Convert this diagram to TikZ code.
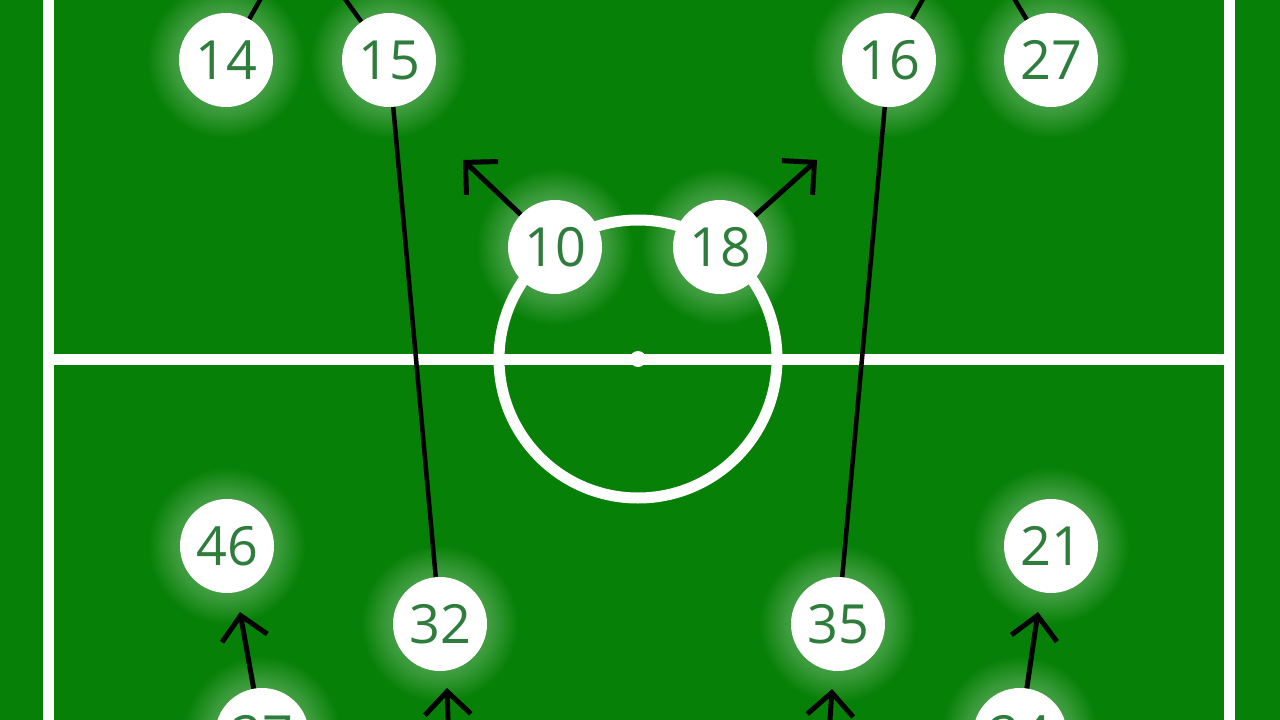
\documentclass[tikz,border=0pt]{standalone}
\usepackage{fontspec}
\setmainfont{Open Sans}
\usetikzlibrary{arrows.meta}
\definecolor{pitch}{RGB}{6,128,6}
\definecolor{shirt}{RGB}{46,125,60}
\tikzset{
	player/.style={circle,fill=white,minimum size=94pt,inner sep=0pt,text=shirt,font=\fontsize{54}{54}\selectfont},
	pitchline/.style={white,line width=11pt},
	run/.style={black,line width=5pt,-{Straight Barb[length=23pt,width=46pt]}},
	pass/.style={black,line width=4.5pt}
}

\begin{document}
\begin{tikzpicture}[x=1pt,y=-1pt]
				\useasboundingbox (0,0) rectangle (1280,720);
				\clip (0,0) rectangle (1280,720);
				\fill[pitch] (0,0) rectangle (1280,720);
				
				\draw[pitchline] (48,-20) -- (48,740);
				\draw[pitchline] (1229,-20) -- (1229,740);
				\draw[pitchline] (48,359) -- (1229,359);
				\draw[pitchline] (638,359) circle (139pt);
				\fill[white] (638,359) circle (8pt);
				
				\foreach \n/\x/\y/\t in {p14/226/60/14, p15/389/60/15, p16/889/60/16, p27/1051/60/27,
						p10/555/247/10, p18/720/247/18,
						p46/227/546/46, p21/1051/546/21, p32/440/624/32, p35/838/624/35,
						p27b/262/735/27, p24/1020/735/24}{
					\foreach \r in {48,50,...,78}
						\fill[white,opacity=0.02] (\x,\y) circle (\r pt);
					\node[player] (\n) at (\x,\y) {\t};
				}
				
				\coordinate (u14) at (277,-30);
				\coordinate (u15) at (324,-30);
				\coordinate (u16) at (939,-30);
				\coordinate (u27) at (997,-30);
				\coordinate (t10) at (463,160);
				\coordinate (t18) at (817,160);
				\coordinate (t46) at (240,612);
				\coordinate (t21) at (1038,612);
				\coordinate (s32) at (450,780);
				\coordinate (t32) at (447,688);
				\coordinate (s35) at (826,780);
				\coordinate (t35) at (832,689);
				
				\draw[pass] (p14) -- (u14);
				\draw[pass] (p15) -- (u15);
				\draw[pass] (p16) -- (u16);
				\draw[pass] (p27) -- (u27);
				\draw[pass] (p15) -- (p32);
				\draw[pass] (p16) -- (p35);
				
				\draw[run] (p10) -- (t10);
				\draw[run] (p18) -- (t18);
				\draw[run] (p27b) -- (t46);
				\draw[run] (p24) -- (t21);
				\draw[run] (s32) -- (t32);
				\draw[run] (s35) -- (t35);
			\end{tikzpicture}
\end{document}
